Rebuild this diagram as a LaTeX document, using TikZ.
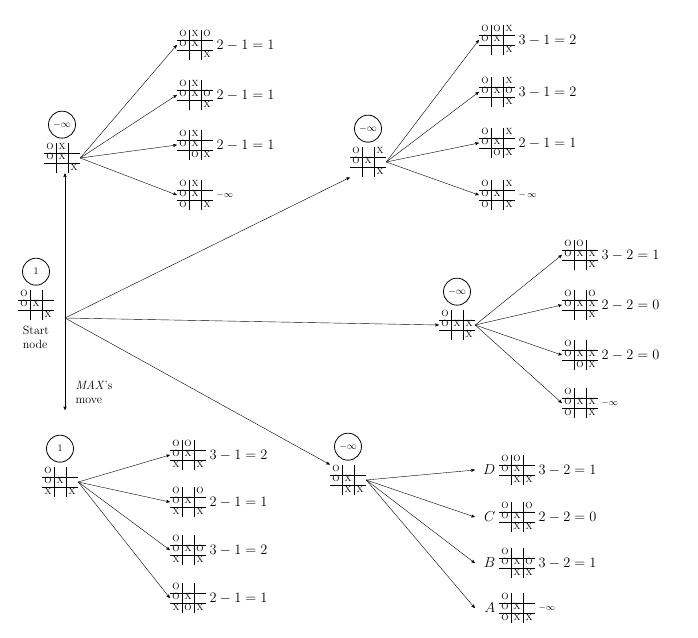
\documentclass[tikz,border=0pt]{standalone}
\usepackage{amsmath}
\usetikzlibrary{arrows,positioning}
\newcommand{\cell}[1]{\makebox[11pt]{#1}}
\newcommand{\board}[9]{{\fontsize{9}{9}\selectfont\setlength\tabcolsep{0.5pt}\renewcommand\arraystretch{1.1}%
\begin{tabular}{c|c|c}\cell{#1}&\cell{#2}&\cell{#3}\\\hline\cell{#4}&\cell{#5}&\cell{#6}\\\hline\cell{#7}&\cell{#8}&\cell{#9}\end{tabular}}}
\begin{document}
\begin{tikzpicture}[x=1pt,y=-1pt,>=stealth',
	bd/.style = {inner sep=0pt},
	val/.style = {circle,draw,thick,inner sep=1pt,minimum size=27pt,font=\normalsize},
	every label/.append style = {font=\Large}
	]
	\useasboundingbox (0,0) rectangle (698,637);
	% start node
	\node (s) [bd] at (36,305) {\board{O}{}{}{O}{X}{}{}{}{X}};
	\node (sv) [val,above=4pt of s] {1};
	\node [below=2pt of s,align=left,font=\large] {Start\\node};
	\coordinate (sc) at (65,318);
	\node [font=\large,align=left,anchor=west] at (72,392) {\textit{MAX}'s\\move};
	
	% parents
	\node (p1) [bd] at (62,158) {\board{O}{X}{}{O}{X}{}{}{}{X}};
	\node [val,above=4pt of p1] {$-\infty$};
	\node (p2) [bd] at (368,162) {\board{O}{}{X}{O}{X}{}{}{}{X}};
	\node [val,above=4pt of p2] {$-\infty$};
	\node (p3) [bd] at (457,325) {\board{O}{}{}{O}{X}{X}{}{}{X}};
	\node [val,above=4pt of p3] {$-\infty$};
	\node (p4) [bd] at (348,480) {\board{O}{}{}{O}{X}{}{}{X}{X}};
	\node [val,above=4pt of p4] {$-\infty$};
	\node (p5) [bd] at (60,482) {\board{O}{}{}{O}{X}{}{X}{}{X}};
	\node (p5v) [val,above=4pt of p5] {1};
	
	\draw[->] (sc) -- (sc |- p1.south);
	\draw[->] (sc) -- (65,410);
	\draw[->] (sc) -- (p2.south west);
	\draw[->] (sc) -- (p3.west);
	\draw[->] (sc) -- (p4.north west);
	
	% children of p1
	\node (a1) [bd,label=right:{$2-1=1$}] at (195,45) {\board{O}{X}{O}{O}{X}{}{}{}{X}};
	\node (a2) [bd,label=right:{$2-1=1$}] at (195,95) {\board{O}{X}{}{O}{X}{O}{}{}{X}};
	\node (a3) [bd,label=right:{$2-1=1$}] at (195,145) {\board{O}{X}{}{O}{X}{}{}{O}{X}};
	\node (a4) [bd,label=right:{\small$-\infty$}] at (195,195) {\board{O}{X}{}{O}{X}{}{O}{}{X}};
	\foreach \c in {a1,a2,a3,a4} \draw[->] (p1.east) -- (\c.west);
	
	% children of p2
	\node (b1) [bd,label=right:{$3-1=2$}] at (497,40) {\board{O}{O}{X}{O}{X}{}{}{}{X}};
	\node (b2) [bd,label=right:{$3-1=2$}] at (497,92) {\board{O}{}{X}{O}{X}{O}{}{}{X}};
	\node (b3) [bd,label=right:{$2-1=1$}] at (497,143) {\board{O}{}{X}{O}{X}{}{}{O}{X}};
	\node (b4) [bd,label=right:{\small$-\,\infty$}] at (497,195) {\board{O}{}{X}{O}{X}{}{O}{}{X}};
	\foreach \c in {b1,b2,b3,b4} \draw[->] (p2.east) -- (\c.west);
	
	% children of p3
	\node (c1) [bd,label=right:{$3-2=1$}] at (580,255) {\board{O}{O}{}{O}{X}{X}{}{}{X}};
	\node (c2) [bd,label=right:{$2-2=0$}] at (580,305) {\board{O}{}{O}{O}{X}{X}{}{}{X}};
	\node (c3) [bd,label=right:{$2-2=0$}] at (580,355) {\board{O}{}{}{O}{X}{X}{}{O}{X}};
	\node (c4) [bd,label=right:{\small$-\infty$}] at (580,403) {\board{O}{}{}{O}{X}{X}{O}{}{X}};
	\foreach \c in {c1,c2,c3,c4} \draw[->] (p3.east) -- (\c.west);
	
	% children of p4
	\node (d1) [bd,label=right:{$3-2=1$},label=left:{$D$}] at (517,470) {\board{O}{O}{}{O}{X}{}{}{X}{X}};
	\node (d2) [bd,label=right:{$2-2=0$},label=left:{$C$}] at (517,517) {\board{O}{}{O}{O}{X}{}{}{X}{X}};
	\node (d3) [bd,label=right:{$3-2=1$},label=left:{$B$}] at (517,563) {\board{O}{}{}{O}{X}{O}{}{X}{X}};
	\node (d4) [bd,label=right:{\small$-\infty$},label=left:{$A$}] at (517,608) {\board{O}{}{}{O}{X}{}{O}{X}{X}};
	\foreach \c in {d1,d2,d3,d4} \draw[->] (p4.east) -- ([xshift=-24pt]\c.west);
	
	% children of p5
	\node (e1) [bd,label=right:{$3-1=2$}] at (188,455) {\board{O}{O}{}{O}{X}{}{X}{}{X}};
	\node (e2) [bd,label=right:{$2-1=1$}] at (188,502) {\board{O}{}{O}{O}{X}{}{X}{}{X}};
	\node (e3) [bd,label=right:{$3-1=2$}] at (188,550) {\board{O}{}{}{O}{X}{O}{X}{}{X}};
	\node (e4) [bd,label=right:{$2-1=1$}] at (188,598) {\board{O}{}{}{O}{X}{}{X}{O}{X}};
	\foreach \c in {e1,e2,e3,e4} \draw[->] (p5.east) -- (\c.west);
\end{tikzpicture}
\end{document}
